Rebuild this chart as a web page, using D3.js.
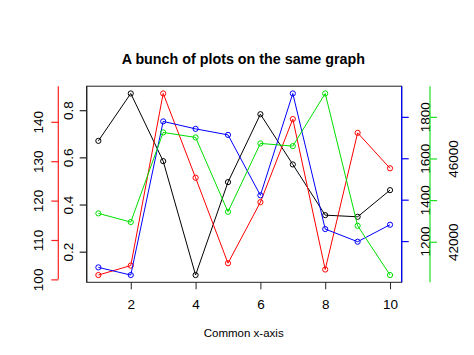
<!DOCTYPE html>
<html><head><meta charset="utf-8">
<script src="https://cdn.jsdelivr.net/npm/d3@7"></script>
<style>body{margin:0;background:#fff}svg{display:block}text{font-family:"Liberation Sans",Arial,sans-serif;fill:#000}</style>
</head><body><svg id="c" width="474" height="355"></svg>
<script>
const xs = [1,2,3,4,5,6,7,8,9,10];
const blackVals = [0.670,0.871,0.584,0.101,0.495,0.783,0.570,0.355,0.348,0.461];
const redVals = [101.1,103.5,147.2,125.8,104.1,119.6,140.7,102.5,137.2,128.2];
const blueVals = [1073,1036,1778,1742,1713,1421,1913,1258,1197,1279];
const greenVals = [43363,42946,47251,47011,43440,46723,46594,49123,42768,40402];
const xTicks = [2,4,6,8,10];
const blackTicks = [0.2,0.4,0.6,0.8];
const redTicks = [100,110,120,130,140];
const blueTicks = [1200,1400,1600,1800];
const greenTicks = [42000,44000,46000,48000];
const greenLabels = ["42000","","46000",""];
const title = "A bunch of plots on the same graph";
const xLabel = "Common x-axis";

const L=86.7, R=401.7, T=86.2, B=282.3;
const svg = d3.select("#c");
function pad(ext){const r=ext[1]-ext[0];return [ext[0]-0.04*r, ext[1]+0.04*r];}
const x = d3.scaleLinear().domain(pad(d3.extent(xs))).range([L,R]);
const series = [
  {vals:blackVals,color:"#000"},
  {vals:redVals,color:"#ff0000"},
  {vals:blueVals,color:"#0000ff"},
  {vals:greenVals,color:"#00e000"}
];
series.forEach(s=>{s.y=d3.scaleLinear().domain(pad(d3.extent(s.vals))).range([B,T]);});

// data
series.forEach(s=>{
  const pts = xs.map((xv,i)=>[x(xv), s.y(s.vals[i])]);
  svg.append("path").attr("d",d3.line()(pts)).attr("fill","none").attr("stroke",s.color).attr("stroke-width",1);
  svg.selectAll(null).data(pts).enter().append("circle")
    .attr("cx",d=>d[0]).attr("cy",d=>d[1]).attr("r",2.6)
    .attr("fill","none").attr("stroke",s.color).attr("stroke-width",1);
});

// box
svg.append("rect").attr("x",L).attr("y",T).attr("width",R-L).attr("height",B-T)
  .attr("fill","none").attr("stroke","#222").attr("stroke-width",1);

const fs = 13.5;
// x axis
const gx = svg.append("g").attr("transform",`translate(0,${B})`)
  .call(d3.axisBottom(x).tickValues(xTicks).tickSize(7).tickFormat(d3.format("d")));
gx.select(".domain").remove();
gx.selectAll(".tick line").attr("stroke","#222");
gx.selectAll("text").attr("y",null).attr("dy",null).attr("transform","translate(0,27)")
  .style("font-size",fs+"px").attr("fill","#000");

function vAxis(scale, ticks, labels, xpos, side, color, labelX, domainTop, domainBottom){
  const ax = (side==="left"?d3.axisLeft(scale):d3.axisRight(scale))
    .tickValues(ticks).tickSize(7).tickFormat((d,i)=>labels[i]);
  const g = svg.append("g").attr("transform",`translate(${xpos},0)`).call(ax);
  g.select(".domain").remove();
  g.selectAll(".tick line").attr("stroke",color).attr("stroke-width",1.2);
  g.append("line").attr("x1",0).attr("x2",0).attr("y1",domainTop).attr("y2",domainBottom)
    .attr("stroke",color).attr("stroke-width",1.2);
  g.selectAll(".tick text").attr("x",null).attr("dy",null)
    .attr("text-anchor","middle").attr("dominant-baseline","central")
    .attr("transform",`translate(${labelX-xpos},0) rotate(-90)`)
    .style("font-size",fs+"px").attr("fill","#000");
  return g;
}
const bS=series[0].y, rS=series[1].y, blS=series[2].y, gS=series[3].y;
vAxis(bS, blackTicks, blackTicks.map(String), L, "left", "#222", 68.3, T, B);
vAxis(rS, redTicks, redTicks.map(String), 58.3, "left", "#ff2020", 38.3, T, rS(redTicks[0]));
vAxis(blS, blueTicks, blueTicks.map(String), R, "right", "#0000ff", 425, T, B);
vAxis(gS, greenTicks, greenLabels, 430, "right", "#20e020", 453, T, B);

svg.append("text").attr("x",243.3).attr("y",63.5).attr("text-anchor","middle")
  .style("font-size","14.3px").style("font-weight","bold").text(title);
svg.append("text").attr("x",243.7).attr("y",336.8).attr("text-anchor","middle")
  .style("font-size","11.5px").text(xLabel);
</script></body></html>
